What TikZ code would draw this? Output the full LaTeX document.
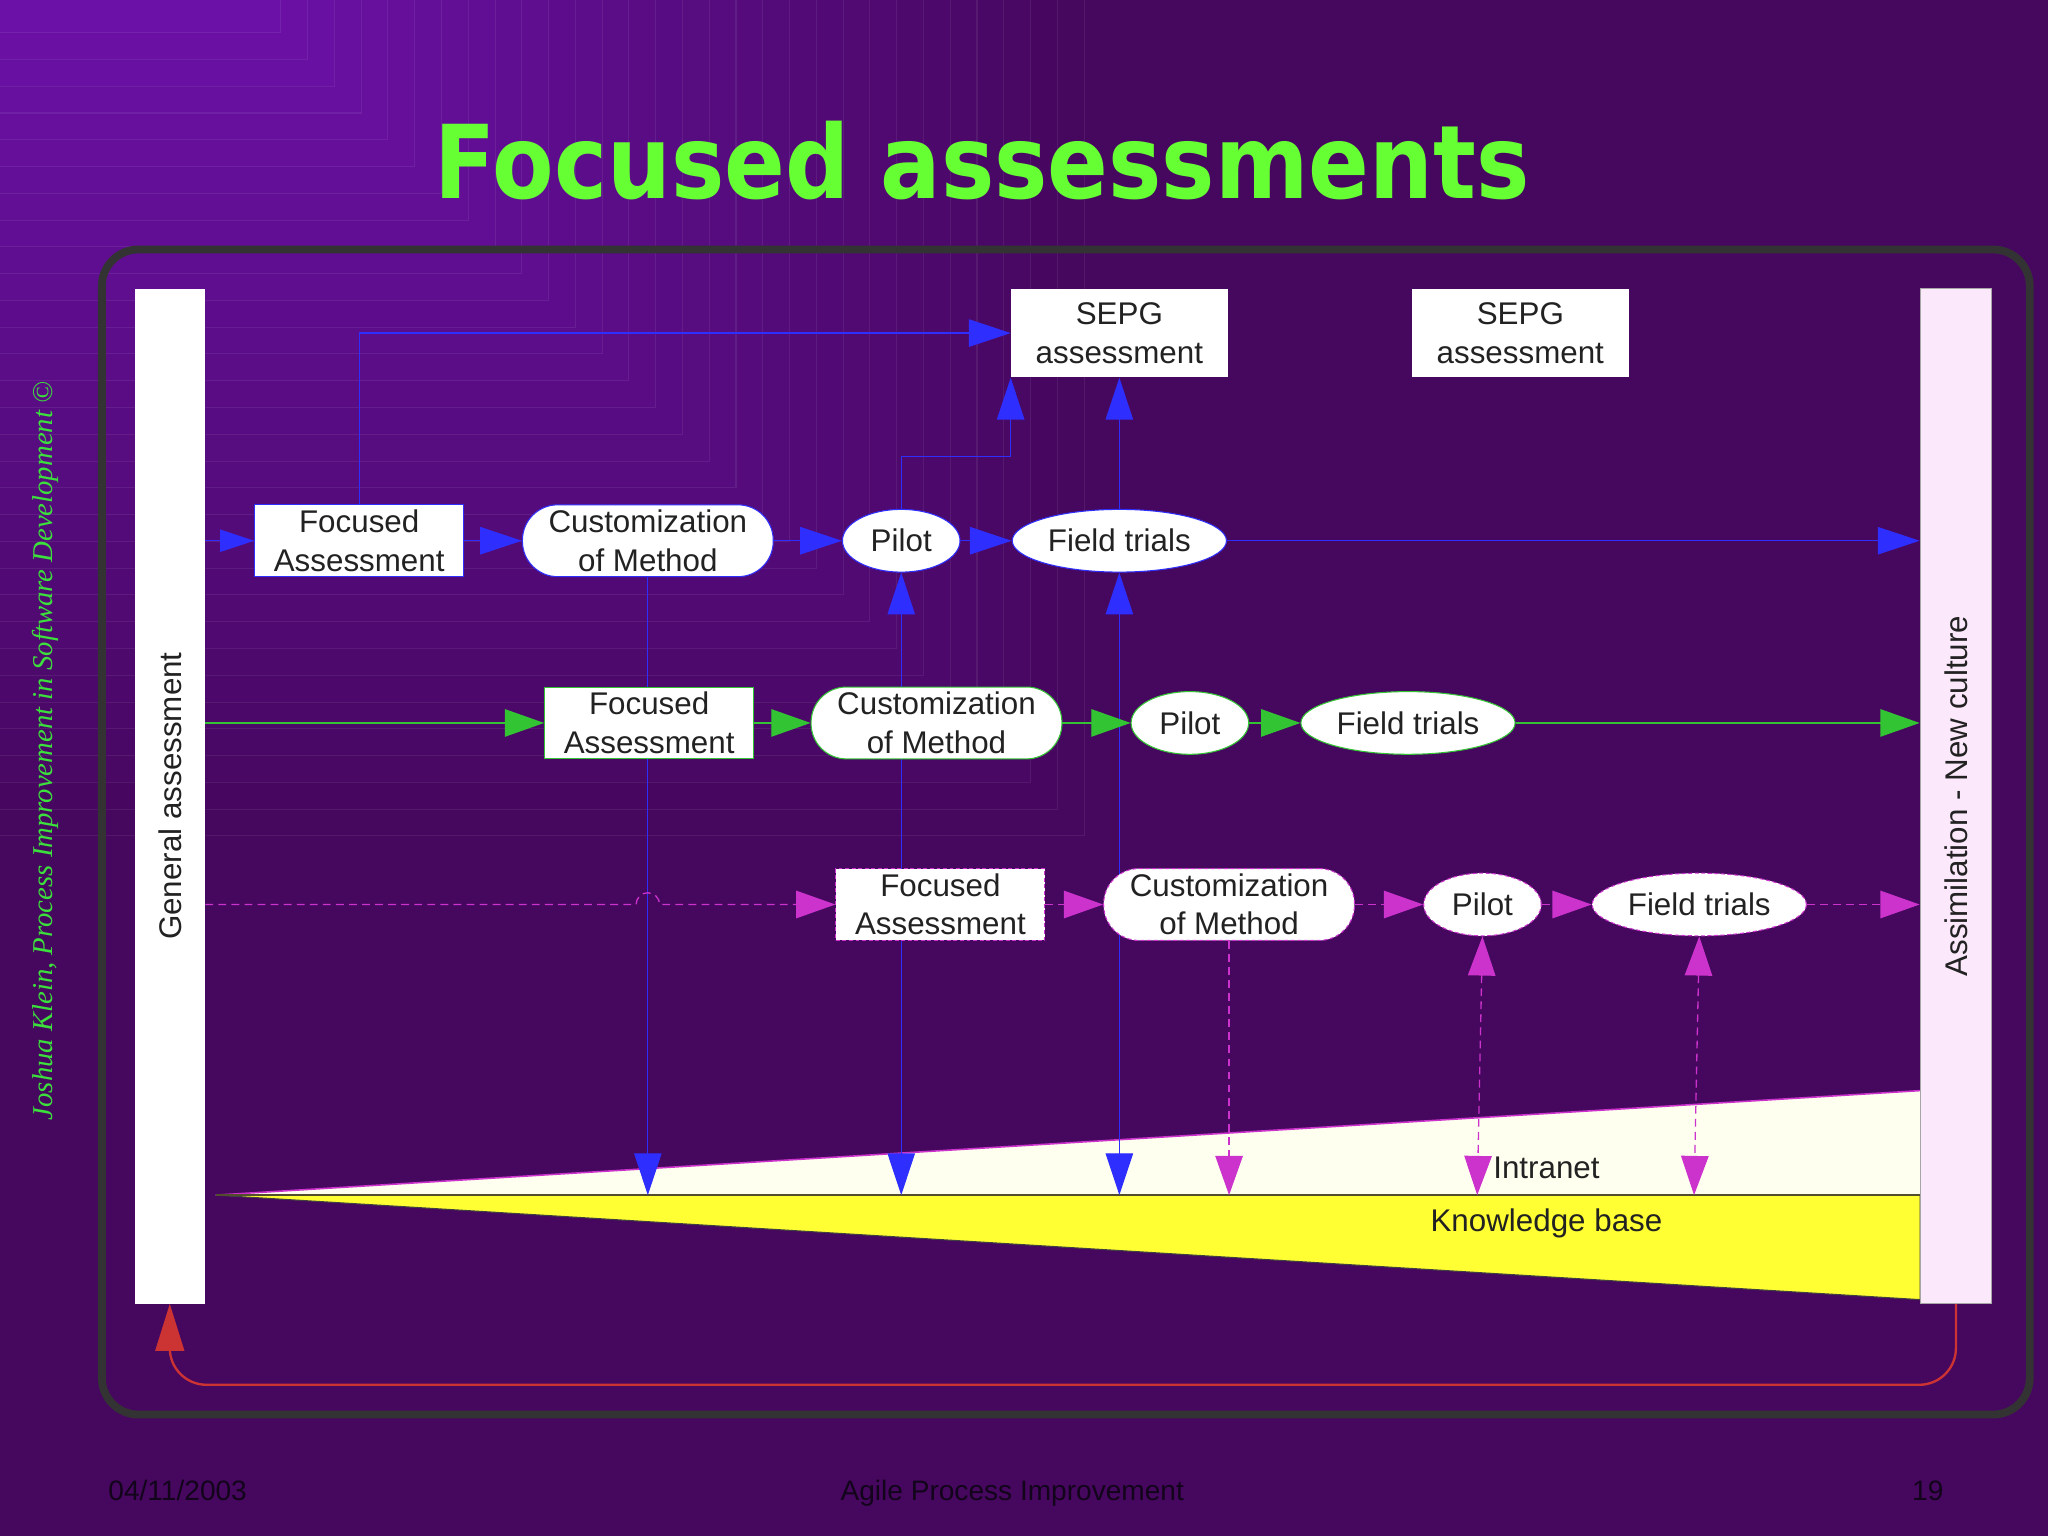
\documentclass[tikz,border=0pt]{standalone}
\usepackage{fontspec}
\setmainfont{Liberation Sans}
\newfontfamily\headfont{DejaVu Sans}
\newfontfamily\creditfont{Liberation Serif}
\usetikzlibrary{arrows.meta,shapes.geometric,calc}
\pgfdeclarelayer{back}
\pgfdeclarelayer{wires}
\pgfsetlayers{back,wires,main}

\definecolor{bgbase}{HTML}{46075F}
\definecolor{bglight}{HTML}{6B11A7}
\definecolor{titlegreen}{HTML}{66FF33}
\definecolor{creditgreen}{HTML}{3CE03C}
\definecolor{framegray}{HTML}{333333}
\definecolor{flowblue}{HTML}{2E2EFF}
\definecolor{flowgreen}{HTML}{33C433}
\definecolor{flowpink}{HTML}{CC33CC}
\definecolor{loopred}{HTML}{CC3333}
\definecolor{intranetfill}{HTML}{FFFFF0}
\definecolor{kbyellow}{HTML}{FFFF33}
\definecolor{culturepink}{HTML}{FBE8FB}
\definecolor{textgray}{HTML}{222222}
\definecolor{footdark}{HTML}{12041A}

\tikzset{
  boxtext/.style={font=\fontsize{24}{29.5}\selectfont, text=textgray, align=center, inner sep=0pt, fill=white},
  fabox/.style={boxtext, rectangle, minimum width=160, minimum height=55},
  cmbox/.style={boxtext, rectangle, rounded corners=27pt, minimum width=192, minimum height=55},
  plbox/.style={boxtext, ellipse, minimum width=90, minimum height=48},
  ftbox/.style={boxtext, ellipse, minimum width=164, minimum height=48},
  sepgbox/.style={boxtext, rectangle, minimum width=166, minimum height=68},
  rowone/.style={draw=flowblue, line width=0.8pt},
  rowtwo/.style={draw=flowgreen, line width=0.8pt},
  rowthree/.style={draw=flowpink, line width=0.8pt, dash pattern={on 3pt off 2pt}},
  barnode/.style={rotate=90, inner sep=0pt, font=\fontsize{24}{29}\selectfont, text=textgray},
  blueflow/.style={draw=flowblue, line width=0.9pt, -{Triangle[length=32pt,width=21pt]}},
  blueboth/.style={draw=flowblue, line width=0.9pt, {Triangle[length=32pt,width=21pt]}-{Triangle[length=32pt,width=21pt]}},
  greenflow/.style={draw=flowgreen, line width=0.9pt, -{Triangle[length=30pt,width=21pt]}},
  pinkflow/.style={draw=flowpink, line width=1pt, dash pattern={on 6pt off 4pt}, -{Triangle[length=30pt,width=21pt]}},
  pinkboth/.style={draw=flowpink, line width=1pt, dash pattern={on 6pt off 4pt}, {Triangle[length=30pt,width=21pt]}-{Triangle[length=30pt,width=21pt]}},
  redloop/.style={draw=loopred, line width=1.8pt, rounded corners=28pt, -{Triangle[length=36pt,width=22pt]}},
  footer/.style={font=\fontsize{21.5}{24}\selectfont, text=footdark, anchor=base}
}

\begin{document}
\begin{tikzpicture}[x=1pt,y=1pt,yscale=-1,xscale=1]
\useasboundingbox (0,0) rectangle (1568,1176);

\begin{pgfonlayer}{back}
%Shape: Background
\fill[bgbase] (0,0) rectangle (1568,1176);
\foreach \i in {0,...,30}{
  \pgfmathtruncatemacro\pc{\i*100/30}
  \pgfmathsetmacro\hh{640-20.5*\i}
  \fill[bglight!\pc!bgbase] (0,0) rectangle (\hh+190,\hh);
  \draw[white, opacity=0.07, line width=0.8pt] (\hh+190,0) -- (\hh+190,\hh) -- (0,\hh);
}
%Shape: Rounded Rectangle
\draw[framegray, line width=6pt, rounded corners=28pt] (78,191) rectangle (1554,1083);
%Shape: Intranet wedge
\coordinate (kbtip) at (165,915);
\coordinate (kbend) at (1470,915);
\fill[intranetfill] (kbtip) -- (1470,835) -- (kbend) -- cycle;
\draw[flowpink, line width=1.2pt] (kbtip) -- (1470,835);
%Shape: Knowledge base wedge
\filldraw[fill=kbyellow, draw=black!75, line width=0.8pt] (kbtip) -- (kbend) -- (1470,995) -- cycle;
\draw[black!55!olive, line width=2pt] (kbtip) -- (kbend);
\end{pgfonlayer}

% Text Node
\node[font=\headfont\bfseries\fontsize{78}{80}\selectfont, text=titlegreen, anchor=base] (title) at (752,152) {\scalebox{0.88}[1]{Focused assessments}};
% Text Node
\node[rotate=90, font=\creditfont\itshape\fontsize{22}{24}\selectfont, text=creditgreen, anchor=base] (credit) at (40,575) {Joshua Klein, Process Improvement in Software Development ©};

%Shape: Side bars
\node[barnode, fill=white, minimum width=777, minimum height=54] (genl) at (130,609.5) {General assessment};
\node[barnode, fill=culturepink, draw=black!35, line width=0.6pt, minimum width=777, minimum height=55] (newc) at (1497.5,609.5) {Assimilation - New culture};

%Shape: SEPG boxes
\node[sepgbox] (sepg1) at (857,255) {SEPG\\assessment};
\node[sepgbox] (sepg2) at (1164,255) {SEPG\\assessment};

%Shape: first row
\node[fabox, rowone] (fa1) at (275,414) {Focused\\Assessment};
\node[cmbox, rowone] (cm1) at (496,414) {Customization\\of Method};
\node[plbox, rowone] (pl1) at (690,414) {Pilot};
\node[ftbox, rowone] (ft1) at (857,414) {Field trials};

%Shape: second row
\node[fabox, rowtwo] (fa2) at (497,553.5) {Focused\\Assessment};
\node[cmbox, rowtwo] (cm2) at (717,553.5) {Customization\\of Method};
\node[plbox, rowtwo] (pl2) at (911,553.5) {Pilot};
\node[ftbox, rowtwo] (ft2) at (1078,553.5) {Field trials};

%Shape: third row
\node[fabox, rowthree] (fa3) at (720,692.5) {Focused\\Assessment};
\node[cmbox, rowthree] (cm3) at (941,692.5) {Customization\\of Method};
\node[plbox, rowthree] (pl3) at (1135,692.5) {Pilot};
\node[ftbox, rowthree] (ft3) at (1301,692.5) {Field trials};

% Text Node
\node[font=\fontsize{24}{28}\selectfont, text=textgray, anchor=base] (intranet) at (1184,902) {Intranet};
% Text Node
\node[font=\fontsize{24}{28}\selectfont, text=textgray, anchor=base] (kbase) at (1184,943) {Knowledge base};

% Text Node
\node[footer] (date) at (136,1149) {04/11/2003};
\node[footer] (talk) at (775,1149) {Agile Process Improvement};
\node[footer] (slideno) at (1476,1149) {19};

\begin{pgfonlayer}{wires}
%Straight Lines: first row
\draw[blueflow, -{Triangle[length=26pt,width=17pt]}] (genl.south |- fa1.west) -- (fa1.west);
\draw[blueflow] (fa1) -- (cm1);
\draw[blueflow] (cm1) -- (pl1);
\draw[blueflow] (pl1) -- (ft1);
\draw[blueflow] (ft1) -- (newc.north |- ft1);
\draw[blueflow] (fa1.north) |- (sepg1.west);
\draw[blueflow] (pl1.north) |- ($(sepg1.south west)+(0,60)$) -- (sepg1.south west);
\draw[blueflow] (ft1.north) -- (sepg1.south);
\draw[blueflow] (cm1.south) -- (cm1.south |- kbtip);
\draw[blueboth] (pl1.south) -- (pl1.south |- kbtip);
\draw[blueboth] (ft1.south) -- (ft1.south |- kbtip);

%Straight Lines: second row
\draw[greenflow] (genl.south |- fa2.west) -- (fa2.west);
\draw[greenflow] (fa2) -- (cm2);
\draw[greenflow] (cm2) -- (pl2);
\draw[greenflow] (pl2) -- (ft2);
\draw[greenflow] (ft2) -- (newc.north |- ft2);

%Straight Lines: third row
\draw[pinkflow] (genl.south |- fa3.west) -- ($(cm1.south |- fa3.west)+(-9,0)$) arc[start angle=180, end angle=360, radius=9] -- (fa3.west);
\draw[pinkflow] (fa3) -- (cm3);
\draw[pinkflow] (cm3) -- (pl3);
\draw[pinkflow] (pl3) -- (ft3);
\draw[pinkflow] (ft3) -- (newc.north |- ft3);
\draw[pinkflow] (cm3.south) -- (cm3.south |- kbtip);
\draw[pinkboth] (pl3.south) -- ($(pl3.south |- kbtip)+(-4,0)$);
\draw[pinkboth] (ft3.south) -- ($(ft3.south |- kbtip)+(-4,0)$);

%Curve Lines: feedback
\draw[redloop] (newc.west) |- ($(genl.west)+(0,62)$) -- (genl.west);
\end{pgfonlayer}

\end{tikzpicture}
\end{document}
